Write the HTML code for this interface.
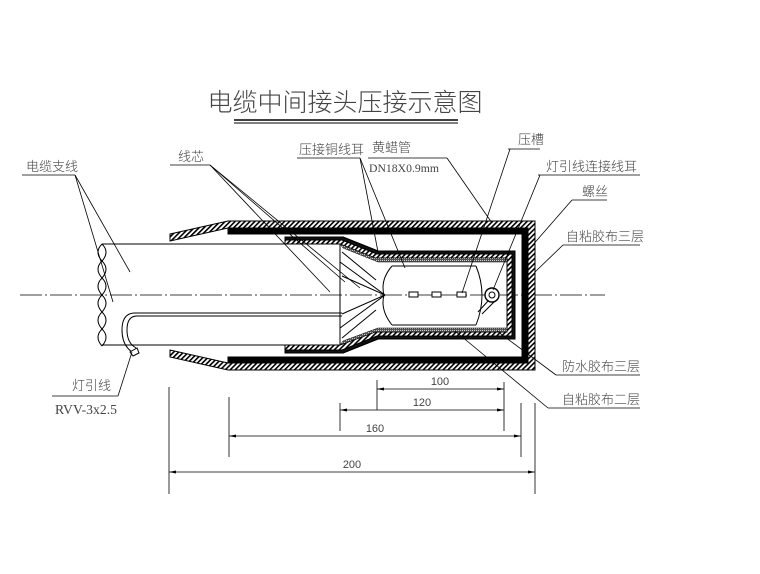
<!DOCTYPE html>
<html><head><meta charset="utf-8"><style>
html,body{margin:0;padding:0;background:#fff;}
svg{display:block;}
text{font-family:"Liberation Sans","Noto Sans CJK SC",sans-serif;fill:#444;}
.cn{font-family:"Noto Sans CJK SC","WenQuanYi Zen Hei",sans-serif;font-weight:300;}
</style></head><body>
<svg width="760" height="574" viewBox="0 0 760 574" xmlns="http://www.w3.org/2000/svg">
<defs>
<pattern id="h" width="3.5" height="3.5" patternUnits="userSpaceOnUse" patternTransform="rotate(45)">
<rect width="3.5" height="3.5" fill="#fff"/><rect width="1.6" height="3.5" fill="#000"/>
</pattern>
<pattern id="d" width="2" height="2" patternUnits="userSpaceOnUse">
<rect width="2" height="2" fill="#555"/><rect width="1" height="1" fill="#ccc"/>
</pattern>
</defs>
<g stroke="#000" stroke-width="1" fill="none">
<text class="cn" x="345" y="111" font-size="25" text-anchor="middle" stroke="none" fill="#333">电缆中间接头压接示意图</text>
<line x1="234" y1="120" x2="458" y2="120" stroke-width="1.5"/>
<line x1="234" y1="123" x2="458" y2="123" stroke-width="1"/>

<line x1="20" y1="295" x2="605" y2="295" stroke-dasharray="22,3,2,3" stroke-width="0.8"/>

<line x1="102" y1="244" x2="342" y2="244"/>
<line x1="102" y1="345" x2="342" y2="345"/>
<path d="M102 244 q-8 8 0 17 q-8 8 0 17 q-8 8 0 17 q-8 8 0 17 q-8 8 0 17 q-8 8 0 17"/>
<path d="M102 244 q8 8 0 17 q8 8 0 17 q8 8 0 17 q8 8 0 17 q8 8 0 17 q8 8 0 17"/>
<path d="M342 313 L135 313 Q122 313 122 330 Q122 345 132 352"/>
<path d="M342 316 L137 316 Q127 316 127 330 Q127 343 136 348"/>
<path d="M130 352 L137 348 L139 353 L133 356 Z" fill="#fff"/>

<path d="M170 234 L228 221 L535 221 L535 370 L228 370 L170 357 L170 350 L228 363 L528 363 L528 228 L228 228 L170 241 Z" fill="url(#h)"/>
<path d="M228 228 L528 228 L528 363 L228 363 L228 357 L522 357 L522 234 L228 234 Z" fill="#000"/>
<rect x="518" y="236" width="3" height="119" fill="#fff" stroke="none"/>

<path d="M285 237 L343 237 L378 251 L515 251 L515 339 L378 339 L343 353 L285 353 L285 345 L340 345 L375 332 L507 332 L507 258 L375 258 L340 244 L285 244 Z" fill="url(#h)"/>
<path d="M285 237 L343 237 L378 251 L515 251 L515 339 L378 339 L343 353 L285 353 L285 350 L342 350 L377 336 L512 336 L512 254 L377 254 L342 240 L285 240 Z" fill="#111"/>
<path d="M340 244 L375 258 L507 258 L507 262 L378 262 L343 248 Z" fill="url(#d)" stroke-width="0.5"/>
<path d="M340 345 L375 332 L507 332 L507 328 L378 328 L343 341 Z" fill="url(#d)" stroke-width="0.5"/>

<line x1="340" y1="244" x2="340" y2="345"/>
<path d="M392 266 Q380 280 384 295 Q380 310 392 325"/>
<line x1="392" y1="266" x2="476" y2="266"/>
<line x1="392" y1="325" x2="476" y2="325"/>
<path d="M476 266 Q488 295 476 325"/>
<line x1="340" y1="262" x2="385" y2="295"/>
<line x1="340" y1="328" x2="385" y2="295"/>
<line x1="342" y1="276" x2="385" y2="295"/>
<line x1="342" y1="314" x2="385" y2="295"/>
<line x1="342" y1="252" x2="376" y2="280"/>
<line x1="342" y1="338" x2="376" y2="310"/>
<rect x="409" y="292" width="9" height="5" fill="#fff"/>
<rect x="432" y="292" width="9" height="5" fill="#fff"/>
<rect x="457" y="292" width="9" height="5" fill="#fff"/>
<circle cx="492" cy="295" r="7" fill="#fff" stroke-width="1.4"/>
<circle cx="492" cy="295" r="3"/>
<path d="M488 301 L478 312 M495 301 L482 314"/>

<g stroke-width="0.8">
<line x1="22" y1="175" x2="75" y2="175"/>
<line x1="75" y1="175" x2="130" y2="272"/>
<line x1="75" y1="175" x2="113" y2="302"/>
<line x1="170" y1="165" x2="210" y2="165"/>
<line x1="210" y1="165" x2="345" y2="282"/>
<line x1="210" y1="165" x2="360" y2="288"/>
<line x1="210" y1="165" x2="330" y2="292"/>
<line x1="297" y1="158" x2="360" y2="158"/>
<line x1="360" y1="158" x2="378" y2="252"/>
<line x1="360" y1="158" x2="405" y2="268"/>
<line x1="368" y1="158" x2="447" y2="158"/>
<line x1="447" y1="158" x2="492" y2="223"/>
<line x1="508" y1="149" x2="540" y2="149"/>
<line x1="510" y1="149" x2="462" y2="293"/>
<line x1="538" y1="175" x2="640" y2="175"/>
<line x1="540" y1="175" x2="493" y2="290"/>
<line x1="572" y1="200" x2="607" y2="200"/>
<line x1="572" y1="200" x2="524" y2="255"/>
<line x1="563" y1="245" x2="640" y2="245"/>
<line x1="563" y1="245" x2="535" y2="272"/>
<line x1="556" y1="375" x2="640" y2="375"/>
<line x1="556" y1="375" x2="497" y2="331"/>
<line x1="548" y1="408" x2="640" y2="408"/>
<line x1="548" y1="408" x2="455" y2="331"/>
<line x1="52" y1="396" x2="118" y2="396"/>
<line x1="118" y1="396" x2="132" y2="352"/>
</g>
<g stroke="none" font-size="13">
<text class="cn" x="26" y="171">电缆支线</text>
<text class="cn" x="178" y="161">线芯</text>
<text class="cn" x="299" y="154">压接铜线耳</text>
<text class="cn" x="372" y="152">黄蜡管</text>
<text x="369" y="172" style="font-family:'Liberation Serif',serif;font-size:12px" textLength="70" lengthAdjust="spacingAndGlyphs">DN18X0.9mm</text>
<text class="cn" x="518" y="144">压槽</text>
<text class="cn" x="546" y="171">灯引线连接线耳</text>
<text class="cn" x="582" y="196">螺丝</text>
<text class="cn" x="566" y="241">自粘胶布三层</text>
<text class="cn" x="562" y="371">防水胶布三层</text>
<text class="cn" x="562" y="404">自粘胶布二层</text>
<text class="cn" x="72" y="390">灯引线</text>
<text x="55" y="414" style="font-family:'Liberation Serif',serif;font-size:14px" textLength="62" lengthAdjust="spacingAndGlyphs">RVV-3x2.5</text>
</g>

<g stroke-width="0.8">
<line x1="377" y1="380" x2="377" y2="410"/>
<line x1="504" y1="382" x2="504" y2="431"/>
<line x1="340" y1="403" x2="340" y2="431"/>
<line x1="229" y1="397" x2="229" y2="457"/>
<line x1="521" y1="403" x2="521" y2="457"/>
<line x1="169" y1="387" x2="169" y2="494"/>
<line x1="535" y1="403" x2="535" y2="494"/>
<line x1="377" y1="389" x2="504" y2="389"/>
<line x1="340" y1="410" x2="504" y2="410"/>
<line x1="229" y1="436" x2="521" y2="436"/>
<line x1="169" y1="472" x2="535" y2="472"/>
</g>
<g fill="#000" stroke="none">
<path d="M377 389 l7 -1.5 v3z"/><path d="M504 389 l-7 -1.5 v3z"/>
<path d="M340 410 l7 -1.5 v3z"/><path d="M504 410 l-7 -1.5 v3z"/>
<path d="M229 436 l7 -1.5 v3z"/><path d="M521 436 l-7 -1.5 v3z"/>
<path d="M169 472 l7 -1.5 v3z"/><path d="M535 472 l-7 -1.5 v3z"/>
</g>
<g stroke="none" font-size="11" fill="#222" text-anchor="middle">
<text x="440" y="385">100</text>
<text x="422" y="406">120</text>
<text x="375" y="432">160</text>
<text x="352" y="468">200</text>
</g>
</g>
</svg>
</body></html>
